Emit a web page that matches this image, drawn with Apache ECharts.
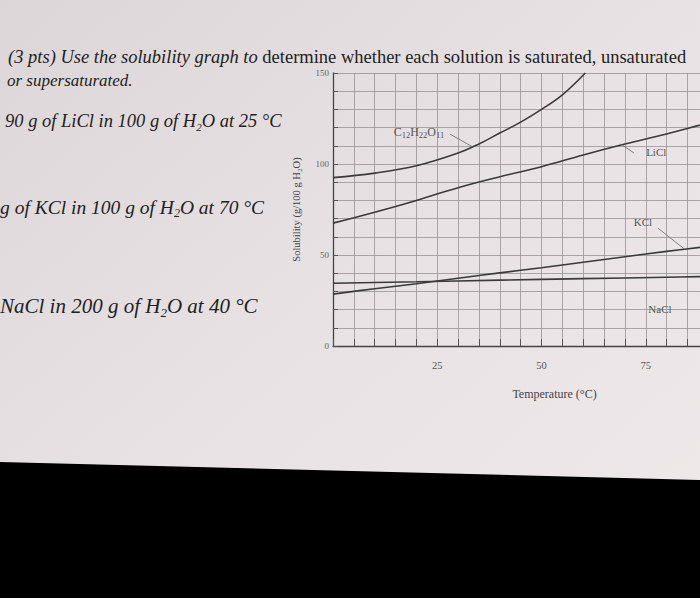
<!DOCTYPE html>
<html><head><meta charset="utf-8">
<script src="https://cdn.jsdelivr.net/npm/echarts@6/dist/echarts.min.js"></script>
<style>html,body{margin:0;padding:0;background:#e9e3e5}#c{width:700px;height:598px}</style>
</head><body><div id="c"></div>
<script>
// Solubility (g solute / 100 g H2O) vs temperature (°C)
const sucroseT = [0, 10, 20, 30, 35, 40, 45, 50, 55, 60.5];
const sucrose  = [92.5, 95, 99, 106, 111, 117, 123, 130, 138, 150];
const liclT = [0, 10, 20, 30, 40, 50, 60, 70, 80, 90, 100];
const licl  = [67.5, 73.5, 80, 87, 93, 98.5, 105, 111, 116.5, 122.5, 128];
const kclT = [0, 10, 20, 30, 40, 50, 60, 70, 80, 90];
const kcl  = [28.5, 31.5, 34.2, 37.2, 40.2, 43, 46, 49, 52, 54.7];
const naclT = [0, 20, 40, 60, 80, 90];
const nacl  = [34.5, 35.3, 36.2, 37, 37.8, 38.2];
const seriesLabels = ['{a|C}{s|12}{a|H}{s|22}{a|O}{s|11}', 'LiCl', 'KCl', 'NaCl'];
const seriesNames = ['C12H22O11', 'LiCl', 'KCl', 'NaCl'];
const xTickLabels = [25, 50, 75];
const yTickLabels = [0, 50, 100, 150];
// curve label anchors (data coords) and leader lines
const labelAt = [[20.6, 117.6], [77.5, 106.5], [74.3, 68.1], [78.4, 20.3]];
const leaders = [
  [[28, 116.5], [33.4, 109.5]],
  [[69, 111], [72.2, 106]],
  [[77.9, 64.8], [84.3, 53.2]],
  null
];

const zip = (a, b) => a.map((v, i) => [v, b[i]]);
const curves = [zip(sucroseT, sucrose), zip(liclT, licl), zip(kclT, kcl), zip(naclT, nacl)];

const serif = '"Liberation Serif", "DejaVu Serif", serif';
const chart = echarts.init(document.getElementById('c'), null, {renderer: 'svg'});

const series = curves.map((d, i) => {
  const s = {
    name: seriesNames[i],
    type: 'line',
    data: d,
    smooth: 0.4,
    clip: true,
    showSymbol: false,
    symbol: 'none',
    lineStyle: {color: '#3a3a3a', width: 1.6},
    markPoint: {
      symbol: 'circle', symbolSize: 1,
      itemStyle: {color: 'rgba(0,0,0,0)'},
      label: {show: true, position: 'inside', formatter: seriesLabels[i],
        fontFamily: serif, fontSize: 11, color: '#555',
        rich: {
          a: {fontFamily: serif, fontSize: 12, lineHeight: 15, color: '#555'},
          s: {fontFamily: serif, fontSize: 8.5, lineHeight: 9, color: '#555', verticalAlign: 'bottom'}
        }},
      data: [{coord: labelAt[i]}]
    }
  };
  if (leaders[i]) {
    s.markLine = {
      symbol: ['none', 'none'], silent: true,
      label: {show: false},
      lineStyle: {color: '#666', width: 0.8, type: 'solid'},
      data: [[{coord: leaders[i][0]}, {coord: leaders[i][1]}]]
    };
  }
  return s;
});

const rich = (size) => ({
  t: {fontStyle: 'italic', fontSize: size, lineHeight: size + 4, fontFamily: serif, fill: '#222'},
  s: {fontStyle: 'italic', fontSize: Math.round(size * 0.62), lineHeight: Math.round(size * 0.62), fontFamily: serif, fill: '#222', verticalAlign: 'bottom'}
});
const qText = (x, y, size, before, after) => ({
  type: 'text', x: x, y: y, silent: true,
  style: {text: '{t|' + before + '}{s|2}{t|' + after + '}', verticalAlign: 'middle', rich: rich(size)}
});

chart.setOption({
  animation: false,
  grid: {left: 333, top: 73, right: 0, height: 273},
  xAxis: {
    type: 'value', min: 0, max: 88, interval: 5,
    axisLine: {show: true, lineStyle: {color: '#444', width: 1.3}},
    axisTick: {show: true, inside: true, length: 7, lineStyle: {color: '#555'}},
    splitLine: {show: true, lineStyle: {color: '#979394', width: 0.8}},
    axisLabel: {formatter: v => xTickLabels.includes(v) ? String(v) : '',
      fontFamily: serif, fontSize: 10.5, color: '#555', margin: 14, showMaxLabel: false},
    name: 'Temperature (°C)', nameLocation: 'middle', nameGap: 42,
    nameTextStyle: {fontFamily: serif, fontSize: 12, color: '#444', padding: [0, 0, 0, 76]}
  },
  yAxis: {
    type: 'value', min: 0, max: 150, interval: 10,
    axisLine: {show: true, lineStyle: {color: '#444', width: 1.3}},
    axisTick: {show: true, inside: true, length: 5, lineStyle: {color: '#555'}},
    splitLine: {show: true, lineStyle: {color: '#979394', width: 0.8}},
    axisLabel: {formatter: v => yTickLabels.includes(v) ? String(v) : '',
      fontFamily: serif, fontSize: 9, color: '#666', margin: 4},
    name: 'Solubility (g/100 g H₂O)', nameLocation: 'middle', nameGap: 31, nameRotate: 90,
    nameTextStyle: {fontFamily: serif, fontSize: 10.5, color: '#444'}
  },
  series: series,
  graphic: [
    {type: 'rect', z: -100, silent: true, shape: {x: 0, y: 0, width: 700, height: 598},
      style: {fill: new echarts.graphic.LinearGradient(0, 0, 1, 1, [
        {offset: 0, color: '#dcd6d8'}, {offset: 0.5, color: '#e8e2e4'}, {offset: 1, color: '#efe9ea'}])}},
    {type: 'text', x: 8, y: 57, silent: true, style: {
      text: '{i|(3 pts) Use the solubility graph to }{n|determine whether each solution is saturated, unsaturated}',
      verticalAlign: 'middle', fill: '#222',
      rich: {
        i: {fontStyle: 'italic', fontSize: 18.5, fontFamily: serif, fill: '#222'},
        n: {fontSize: 18.5, fontFamily: serif, fill: '#222'}
      }}},
    {type: 'text', x: 7, y: 80, silent: true, style: {text: 'or supersaturated.',
      font: 'italic 17px ' + serif, fill: '#222', verticalAlign: 'middle'}},
    qText(5, 121, 18.5, '90 g of LiCl in 100 g of H', 'O at 25 °C'),
    qText(0, 207, 19.5, 'g of KCl in 100 g of H', 'O at 70 °C'),
    qText(0, 306, 21, 'NaCl in 200 g of H', 'O at 40 °C'),
    {type: 'polygon', z: 100, silent: true, shape: {points: [[0, 462], [700, 480], [700, 598], [0, 598]]},
      style: {fill: '#000'}}
  ]
});
</script>
</body></html>
